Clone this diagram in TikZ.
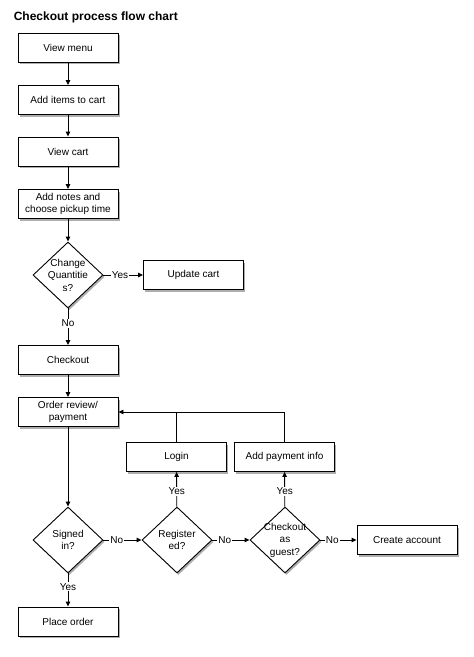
\documentclass[tikz,border=0pt]{standalone}
\usepackage{fontspec}
\setmainfont{Liberation Sans}
\usetikzlibrary{shapes.geometric,arrows.meta,shadows}
\begin{document}
\begin{tikzpicture}[x=1pt,y=-1pt,line width=0.9pt,
    font=\fontsize{10}{12.5}\selectfont,
    >={Triangle[length=5pt,width=4.5pt]},
    boxshadow/.style={drop shadow={shadow xshift=1.5pt,shadow yshift=-2pt,opacity=0.45,fill=black!70}},
    stepbox/.style={draw,fill=white,minimum width=100pt,minimum height=29pt,align=center,inner sep=2pt,boxshadow},
    choice/.style={draw,fill=white,diamond,minimum width=70pt,minimum height=66pt,inner sep=0pt,boxshadow},
    ans/.style={fill=white,inner sep=1pt}]
    \useasboundingbox (0,0) rectangle (474,657);
    \node[anchor=west,font=\fontsize{12}{14}\selectfont\bfseries] (title) at (10,17) {Checkout process flow chart};
    % main column
    \node[stepbox] (menu) at (68,47.5) {View menu};
    \node[stepbox] (items) at (68,100) {Add items to cart};
    \node[stepbox] (cart) at (68,151.5) {View cart};
    \node[stepbox] (notes) at (68,204) {Add notes and\\choose pickup time};
    \node[choice,label={[align=center]center:{Change\\Quantitie\\s?}}] (qty) at (68,275) {};
    \node[stepbox] (update) at (193.5,275) {Update cart};
    \node[stepbox] (checkout) at (68,360) {Checkout};
    \node[stepbox] (review) at (68,412) {Order review/\\payment};
    \node[stepbox] (login) at (176.5,457) {Login};
    \node[stepbox] (payinfo) at (284.5,457) {Add payment info};
    \node[choice,label={[align=center]center:{Signed\\in?}}] (signed) at (68,540) {};
    \node[choice,label={[align=center]center:{Register\\ed?}}] (reg) at (177,540) {};
    \node[choice,label={[align=center]center:{Checkout\\as\\guest?}}] (guest) at (285,540) {};
    \node[stepbox] (account) at (407,540) {Create account};
    \node[stepbox] (place) at (68,621.5) {Place order};
    % connectors
    \draw[->] (menu) -- (items);
    \draw[->] (items) -- (cart);
    \draw[->] (cart) -- (notes);
    \draw[->] (notes) -- (qty);
    \draw[->] (qty) -- node[ans,pos=0.42] {Yes} (update);
    \draw[->] (qty) -- node[ans,pos=0.4] {No} (checkout);
    \draw[->] (checkout) -- (review);
    \draw[->] (review) -- (signed);
    \draw[->] (signed) -- node[ans,pos=0.35] {No} (reg);
    \draw[->] (reg) -- node[ans,pos=0.33] {No} (guest);
    \draw[->] (guest) -- node[ans,pos=0.33] {No} (account);
    \draw[->] (signed) -- node[ans,pos=0.4] {Yes} (place);
    \draw[->] (reg) -- node[ans,pos=0.45] {Yes} (login);
    \draw[->] (guest) -- node[ans,pos=0.45] {Yes} (payinfo);
    \draw[->] (login.north) |- (review.east);
    \draw (payinfo.north) |- (login.north |- review.east);
\end{tikzpicture}
\end{document}
